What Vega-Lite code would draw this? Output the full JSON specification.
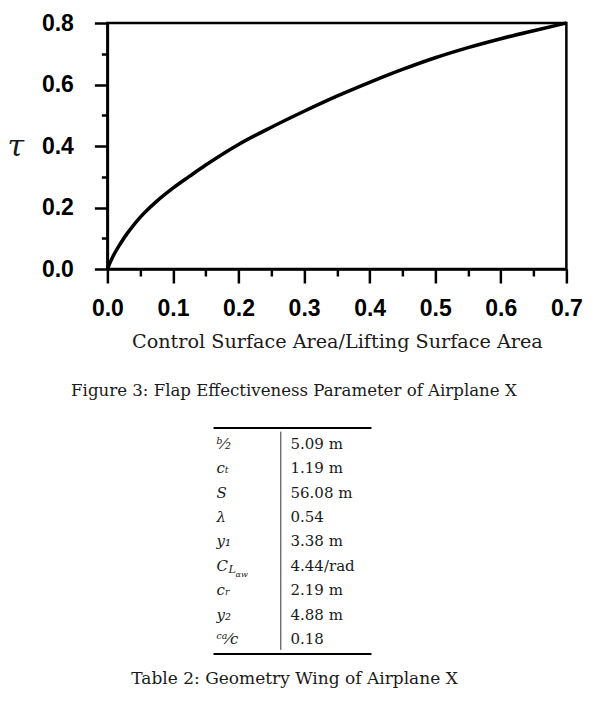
{
  "$schema": "https://vega.github.io/schema/vega-lite/v6.json",
  "padding": {"left": 5, "top": 10, "right": 5, "bottom": 5},
  "background": "white",
  "config": {"view": {"stroke": null}, "font": "DejaVu Serif"},
  "spacing": 25,
  "center": true,
  "vconcat": [
    {
      "width": 459,
      "height": 246,
      "view": {"stroke": "black", "strokeWidth": 2.5},
      "title": {"text": "Figure 3: Flap Effectiveness Parameter of Airplane X", "orient": "bottom", "font": "DejaVu Serif", "fontSize": 16.6, "fontWeight": "normal", "color": "#1a1a1a", "dx": -43, "offset": 32},
      "data": {"values": [
        {"ratio": 0, "tau": 0},
        {"ratio": 0.005, "tau": 0.025},
        {"ratio": 0.01, "tau": 0.047},
        {"ratio": 0.02, "tau": 0.083},
        {"ratio": 0.03, "tau": 0.115},
        {"ratio": 0.04, "tau": 0.143},
        {"ratio": 0.05, "tau": 0.168},
        {"ratio": 0.06, "tau": 0.19},
        {"ratio": 0.075, "tau": 0.22},
        {"ratio": 0.1, "tau": 0.263},
        {"ratio": 0.125, "tau": 0.301},
        {"ratio": 0.15, "tau": 0.338},
        {"ratio": 0.2, "tau": 0.405},
        {"ratio": 0.25, "tau": 0.461},
        {"ratio": 0.3, "tau": 0.513},
        {"ratio": 0.35, "tau": 0.562},
        {"ratio": 0.4, "tau": 0.607},
        {"ratio": 0.45, "tau": 0.649},
        {"ratio": 0.5, "tau": 0.687},
        {"ratio": 0.55, "tau": 0.72},
        {"ratio": 0.6, "tau": 0.749},
        {"ratio": 0.65, "tau": 0.775},
        {"ratio": 0.7, "tau": 0.8}
      ]},
      "mark": {"type": "line", "color": "black", "strokeWidth": 3.5, "interpolate": "monotone"},
      "encoding": {
        "x": {
          "field": "ratio", "type": "quantitative",
          "scale": {"domain": [0, 0.7], "nice": false, "zero": false},
          "axis": {
            "title": "Control Surface Area/Lifting Surface Area",
            "titleFont": "DejaVu Serif", "titleFontSize": 19.2, "titleFontWeight": "normal", "titleColor": "#1a1a1a", "titlePadding": 12,
            "values": [0, 0.05, 0.1, 0.15, 0.2, 0.25, 0.3, 0.35, 0.4, 0.45, 0.5, 0.55, 0.6, 0.65, 0.7],
            "labelExpr": "abs(datum.value*10 - round(datum.value*10)) < 0.001 ? format(datum.value, '.1f') : ''",
            "labelFont": "Liberation Sans", "labelFontWeight": "bold", "labelFontSize": 23, "labelColor": "black",
            "labelPadding": 14, "labelFlush": false, "labelOverlap": false,
            "tickSize": {"condition": {"test": "abs(datum.value*10 - round(datum.value*10)) < 0.001", "value": 14}, "value": 7},
            "tickWidth": 2.5, "tickColor": "black",
            "domainColor": "black", "domainWidth": 2.5,
            "grid": false
          }
        },
        "y": {
          "field": "tau", "type": "quantitative",
          "scale": {"domain": [0, 0.8], "nice": false},
          "axis": {
            "title": "τ",
            "titleFont": "DejaVu Serif", "titleFontStyle": "italic", "titleFontSize": 30, "titleFontWeight": "normal", "titleColor": "#1a1a1a",
            "titleAngle": 0, "titleX": -92, "titleY": 123, "titleAlign": "center", "titleBaseline": "middle",
            "values": [0, 0.1, 0.2, 0.3, 0.4, 0.5, 0.6, 0.7, 0.8],
            "labelExpr": "abs(datum.value*5 - round(datum.value*5)) < 0.001 ? format(datum.value, '.1f') : ''",
            "labelFont": "Liberation Sans", "labelFontWeight": "bold", "labelFontSize": 23, "labelColor": "black",
            "labelPadding": 21, "labelFlush": false, "labelOverlap": false,
            "tickSize": {"condition": {"test": "abs(datum.value*5 - round(datum.value*5)) < 0.001", "value": 13}, "value": 6},
            "tickWidth": 2.5, "tickColor": "black",
            "domainColor": "black", "domainWidth": 2.5,
            "grid": false
          }
        }
      }
    },
    {
      "width": 264,
      "height": 226,
      "title": {"text": "Table 2: Geometry Wing of Airplane X", "orient": "bottom", "font": "DejaVu Serif", "fontSize": 17, "fontWeight": "normal", "color": "#1a1a1a", "offset": 16, "dx": -51},
      "data": {"values": [
        {"row": 1, "sym": "ᵇ⁄₂", "val": "5.09 m", "sub1": "", "sub2": ""},
        {"row": 2, "sym": "cₜ", "val": "1.19 m", "sub1": "", "sub2": ""},
        {"row": 3, "sym": "S", "val": "56.08 m", "sub1": "", "sub2": ""},
        {"row": 4, "sym": "λ", "val": "0.54", "sub1": "", "sub2": ""},
        {"row": 5, "sym": "y₁", "val": "3.38 m", "sub1": "", "sub2": ""},
        {"row": 6, "sym": "C", "val": "4.44/rad", "sub1": "L", "sub2": "αw"},
        {"row": 7, "sym": "cᵣ", "val": "2.19 m", "sub1": "", "sub2": ""},
        {"row": 8, "sym": "y₂", "val": "4.88 m", "sub1": "", "sub2": ""},
        {"row": 9, "sym": "ᶜᵃ⁄c", "val": "0.18", "sub1": "", "sub2": ""}
      ]},
      "layer": [
        {
          "transform": [{"filter": "datum.row == 1"}],
          "mark": {"type": "rule", "color": "black", "strokeWidth": 1.8},
          "encoding": {
            "x": {"datum": 0, "type": "quantitative", "scale": {"domain": [0, 3.342], "nice": false, "zero": false}, "axis": null},
            "x2": {"datum": 2},
            "y": {"datum": 0.35, "type": "quantitative", "scale": {"domain": [0.35, 9.62], "reverse": true, "nice": false, "zero": false}, "axis": null}
          }
        },
        {
          "transform": [{"filter": "datum.row == 1"}],
          "mark": {"type": "rule", "color": "black", "strokeWidth": 1.8},
          "encoding": {
            "x": {"datum": 0, "type": "quantitative"},
            "x2": {"datum": 2},
            "y": {"datum": 9.62, "type": "quantitative"}
          }
        },
        {
          "transform": [{"filter": "datum.row == 1"}],
          "mark": {"type": "rule", "color": "#333", "strokeWidth": 1},
          "encoding": {
            "x": {"datum": 0.852, "type": "quantitative"},
            "y": {"datum": 0.5, "type": "quantitative"},
            "y2": {"datum": 9.45}
          }
        },
        {
          "mark": {"type": "text", "align": "left", "baseline": "middle", "dx": 3, "font": "DejaVu Serif", "fontStyle": "italic", "fontSize": 15, "color": "#1a1a1a"},
          "encoding": {
            "x": {"datum": 0, "type": "quantitative"},
            "y": {"field": "row", "type": "quantitative"},
            "text": {"field": "sym"}
          }
        },
        {
          "transform": [{"filter": "datum.sub1 != ''"}],
          "mark": {"type": "text", "align": "left", "baseline": "middle", "dx": 15, "dy": 4, "font": "DejaVu Serif", "fontStyle": "italic", "fontSize": 11, "color": "#1a1a1a"},
          "encoding": {
            "x": {"datum": 0, "type": "quantitative"},
            "y": {"field": "row", "type": "quantitative"},
            "text": {"field": "sub1"}
          }
        },
        {
          "transform": [{"filter": "datum.sub2 != ''"}],
          "mark": {"type": "text", "align": "left", "baseline": "middle", "dx": 22, "dy": 9, "font": "DejaVu Serif", "fontStyle": "italic", "fontSize": 8, "color": "#1a1a1a"},
          "encoding": {
            "x": {"datum": 0, "type": "quantitative"},
            "y": {"field": "row", "type": "quantitative"},
            "text": {"field": "sub2"}
          }
        },
        {
          "mark": {"type": "text", "align": "left", "baseline": "middle", "font": "DejaVu Serif", "fontSize": 15, "color": "#1a1a1a"},
          "encoding": {
            "x": {"datum": 0.975, "type": "quantitative"},
            "y": {"field": "row", "type": "quantitative"},
            "text": {"field": "val"}
          }
        }
      ]
    }
  ]
}
